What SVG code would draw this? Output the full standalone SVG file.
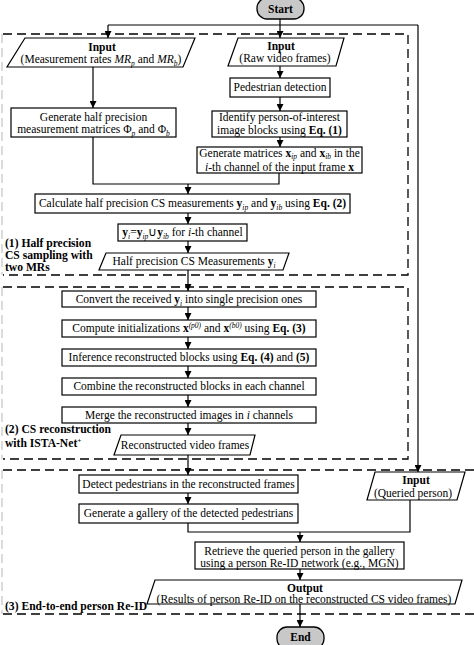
<svg xmlns="http://www.w3.org/2000/svg" width="474" height="645" viewBox="0 0 474 645">
<style>
text{font-family:"Liberation Serif","Times New Roman",serif;font-size:11.5px;fill:#000}
.c{text-anchor:middle}
.b{font-weight:bold}
.i{font-style:italic}
.s{font-size:7.5px}
.lab{font-weight:bold;font-size:11.6px}
.box{fill:#fff;stroke:#000;stroke-width:1.2}
.term{fill:#c8c8c8;stroke:#000;stroke-width:1.3}
.ln{fill:none;stroke:#000;stroke-width:1.2}
.dash{fill:none;stroke:#000;stroke-width:1.3;stroke-dasharray:9 5}
.dashg{fill:none;stroke:#c8c8c8;stroke-width:1.3;stroke-dasharray:9 5}
</style>
<defs>
<marker id="ah" viewBox="0 0 10 10" refX="10" refY="5" markerWidth="7" markerHeight="7" markerUnits="userSpaceOnUse" orient="auto">
<path d="M0,0 L10,5 L0,10 z" fill="#000"/>
</marker>
</defs>
<rect width="474" height="645" fill="#fff"/>

<g id="regions">
<path class="dash" d="M3,34 H408 V275 H3"/>
<path class="dash" d="M3,287 H408 V459 H3"/>
<path class="dash" d="M3,470 H474 M3,614 H474"/>
<path class="dashg" d="M2,34 V275 M2,287 V459 M2,470 V614"/>
<text class="lab" x="5" y="247">(1) Half precision</text>
<text class="lab" x="5" y="259">CS sampling with</text>
<text class="lab" x="5" y="271">two MRs</text>
<text class="lab" x="5" y="433">(2) CS reconstruction</text>
<text class="lab" x="5" y="447">with ISTA-Net<tspan font-size="7" dy="-4">+</tspan></text>
<text class="lab" x="5" y="610">(3) End-to-end person Re-ID</text>
</g>

<g id="connectors">
<path class="ln" d="M280,19 V38" marker-end="url(#ah)"/>
<path class="ln" d="M108,25 H418"/>
<path class="ln" d="M108,25 V38" marker-end="url(#ah)"/>
<path class="ln" d="M418,25 V472" marker-end="url(#ah)"/>
<path class="ln" d="M93,67 V108" marker-end="url(#ah)"/>
<path class="ln" d="M280,66 V78" marker-end="url(#ah)"/>
<path class="ln" d="M280,97 V111" marker-end="url(#ah)"/>
<path class="ln" d="M280,137 V147" marker-end="url(#ah)"/>
<path class="ln" d="M93,137 V184 H279 V173"/>
<path class="ln" d="M188,184 V194" marker-end="url(#ah)"/>
<path class="ln" d="M188,213 V224" marker-end="url(#ah)"/>
<path class="ln" d="M188,241 V253" marker-end="url(#ah)"/>
<path class="ln" d="M188,270 V291" marker-end="url(#ah)"/>
<path class="ln" d="M188,307 V320" marker-end="url(#ah)"/>
<path class="ln" d="M188,337 V349" marker-end="url(#ah)"/>
<path class="ln" d="M188,366 V378" marker-end="url(#ah)"/>
<path class="ln" d="M188,395 V407" marker-end="url(#ah)"/>
<path class="ln" d="M188,423 V435" marker-end="url(#ah)"/>
<path class="ln" d="M188,455 V475" marker-end="url(#ah)"/>
<path class="ln" d="M188,493 V504" marker-end="url(#ah)"/>
<path class="ln" d="M188,523 V532 H410 V500"/>
<path class="ln" d="M300,532 V542" marker-end="url(#ah)"/>
<path class="ln" d="M300,569 V580" marker-end="url(#ah)"/>
<path class="ln" d="M300,604 V627" marker-end="url(#ah)"/>
</g>

<g id="start">
<rect class="term" x="257" y="-2" width="47" height="21" rx="10"/>
<text class="c b" x="280.5" y="13">Start</text>
</g>

<g id="input-mr">
<polygon class="box" points="25,38 195,38 183,67 7,67"/>
<text class="c b" x="102" y="51">Input</text>
<text class="c" x="101" y="63">(Measurement rates <tspan class="i">MR</tspan><tspan class="i s" dy="2.5">p</tspan><tspan dy="-2.5"> and </tspan><tspan class="i">MR</tspan><tspan class="i s" dy="2.5">b</tspan><tspan dy="-2.5">)</tspan></text>
</g>

<g id="gen-phi">
<rect class="box" x="11" y="108" width="165" height="29"/>
<text class="c" x="93.5" y="121">Generate half precision</text>
<text class="c" x="93.5" y="133">measurement matrices Φ<tspan class="i s" dy="2.5">p</tspan><tspan dy="-2.5"> and Φ</tspan><tspan class="i s" dy="2.5">b</tspan></text>
</g>

<g id="input-raw">
<polygon class="box" points="238,38 344,38 336,66 228,66"/>
<text class="c b" x="281" y="50">Input</text>
<text class="c" x="285" y="62">(Raw video frames)</text>
</g>

<g id="ped-det">
<rect class="box" x="230" y="78" width="100" height="19"/>
<text class="c" x="280" y="91">Pedestrian detection</text>
</g>

<g id="identify">
<rect class="box" x="212" y="111" width="135" height="26"/>
<text class="c" x="279.5" y="121">Identify person-of-interest</text>
<text class="c" x="279.5" y="134">image blocks using <tspan class="b">Eq. (1)</tspan></text>
</g>

<g id="gen-x">
<rect class="box" x="197" y="147" width="165" height="26"/>
<text class="c" x="279.5" y="157">Generate matrices <tspan class="b">x</tspan><tspan class="i s" dy="2">ip</tspan><tspan dy="-2"> and </tspan><tspan class="b">x</tspan><tspan class="i s" dy="2">ib</tspan><tspan dy="-2"> in the</tspan></text>
<text class="c" x="279.5" y="170.5"><tspan class="i">i</tspan>-th channel of the input frame <tspan class="b">x</tspan></text>
</g>

<g id="calc-y">
<rect class="box" x="35" y="194" width="315" height="19"/>
<text class="c" x="192.5" y="207">Calculate half precision CS measurements <tspan class="b">y</tspan><tspan class="i s" dy="2.5">ip</tspan><tspan dy="-2.5"> and </tspan><tspan class="b">y</tspan><tspan class="i s" dy="2.5">ib</tspan><tspan dy="-2.5">  using </tspan><tspan class="b">Eq. (2)</tspan></text>
</g>

<g id="union">
<rect class="box" x="118" y="224" width="129" height="17"/>
<text class="c" x="182.5" y="236"><tspan class="b">y</tspan><tspan class="i s" dy="2.5">i</tspan><tspan dy="-2.5">=</tspan><tspan class="b">y</tspan><tspan class="i s" dy="2.5">ip</tspan><tspan dy="-2.5">∪</tspan><tspan class="b">y</tspan><tspan class="i s" dy="2.5">ib</tspan><tspan dy="-2.5"> for </tspan><tspan class="i">i</tspan>-th channel</text>
</g>

<g id="half-meas">
<polygon class="box" points="106,253 289,253 283,270 99,270"/>
<text class="c" x="194" y="265">Half precision CS Measurements <tspan class="b">y</tspan><tspan class="i s" dy="2.5">i</tspan></text>
</g>

<g id="convert">
<rect class="box" x="62" y="291" width="254" height="16"/>
<text class="c" x="189" y="303">Convert the received <tspan class="b">y</tspan><tspan class="i s" dy="2.5">i</tspan><tspan dy="-2.5"> into single precision ones</tspan></text>
</g>

<g id="compute">
<rect class="box" x="62" y="320" width="254" height="17"/>
<text class="c" x="189" y="332">Compute initializations  <tspan class="b">x</tspan><tspan class="i s" dy="-4.5">(p0)</tspan><tspan dy="4.5"> and </tspan><tspan class="b">x</tspan><tspan class="i s" dy="-4.5">(b0)</tspan><tspan dy="4.5"> using </tspan><tspan class="b">Eq. (3)</tspan></text>
</g>

<g id="inference">
<rect class="box" x="62" y="349" width="254" height="17"/>
<text class="c" x="189" y="361">Inference reconstructed blocks using <tspan class="b">Eq. (4)</tspan> and <tspan class="b">(5)</tspan></text>
</g>

<g id="combine">
<rect class="box" x="62" y="378" width="254" height="17"/>
<text class="c" x="189" y="390">Combine the reconstructed blocks in each channel</text>
</g>

<g id="merge">
<rect class="box" x="62" y="407" width="254" height="16"/>
<text class="c" x="189" y="419">Merge the reconstructed images in <tspan class="i">i</tspan> channels</text>
</g>

<g id="recon-frames">
<polygon class="box" points="121,435 255,435 250,455 114,455"/>
<text class="c" x="185" y="449">Reconstructed video frames</text>
</g>

<g id="detect">
<rect class="box" x="79" y="475" width="219" height="18"/>
<text class="c" x="188.5" y="488">Detect pedestrians in the reconstructed frames</text>
</g>

<g id="gallery">
<rect class="box" x="79" y="504" width="219" height="19"/>
<text class="c" x="188.5" y="517">Generate a gallery of the detected pedestrians</text>
</g>

<g id="input-query">
<polygon class="box" points="375,472 465,472 457,500 367,500"/>
<text class="c b" x="416" y="484">Input</text>
<text class="c" x="413" y="497">(Queried person)</text>
</g>

<g id="retrieve">
<rect class="box" x="195" y="542" width="209" height="27"/>
<text class="c" x="299.5" y="555">Retrieve the queried person in the gallery</text>
<text class="c" x="299.5" y="567">using a person Re-ID network (e.g., MGN)</text>
</g>

<g id="output">
<polygon class="box" points="155,580 462,580 455,604 147,604"/>
<text class="c b" x="305" y="592">Output</text>
<text class="c" x="304" y="603">(Results of person Re-ID on the reconstructed CS video frames)</text>
</g>

<g id="end">
<rect class="term" x="277" y="627" width="47" height="22" rx="10"/>
<text class="c b" x="300.5" y="641">End</text>
</g>
</svg>
